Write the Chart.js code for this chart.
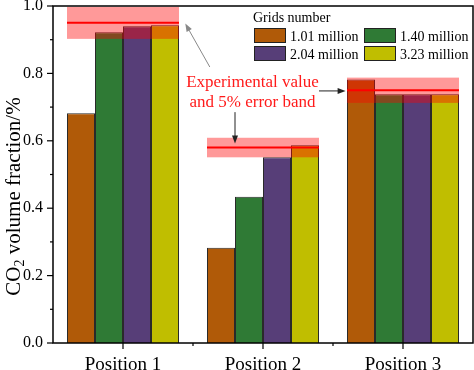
<!DOCTYPE html>
<html>
<head>
<meta charset="utf-8">
<script src="https://cdn.jsdelivr.net/npm/chart.js@4.4.0/dist/chart.umd.min.js"></script>
<style>
  body { margin: 0; background: #fff; }
  canvas { display: block; }
</style>
</head>
<body>
<canvas id="chart" width="474" height="370"></canvas>
<script>
var categories = ['Position 1', 'Position 2', 'Position 3'];
var gridNames = ['1.01 million', '1.40 million', '2.04 million', '3.23 million'];
var grid101 = [0.682, 0.283, 0.782];
var grid140 = [0.922, 0.434, 0.738];
var grid204 = [0.940, 0.551, 0.738];
var grid323 = [0.943, 0.587, 0.738];
var expValue = [0.95, 0.58, 0.75];
var bandLow = [0.9025, 0.551, 0.7125];
var bandHigh = [0.9975, 0.609, 0.7875];
var yTicks = [0.0, 0.2, 0.4, 0.6, 0.8, 1.0];

var barColors = ['#b05a08', '#2f7a35', '#573e78', '#c0be00'];
var serif = '"Liberation Serif", "Times New Roman", serif';

// arrows in data units: [fromIndex, fromValue, toIndex, toValue, colour]
var arrows = [
  [0.62, 0.819, 0.445, 0.948, '#888'],
  [0.80, 0.685, 0.80, 0.592, '#222'],
  [1.40, 0.748, 1.59, 0.748, '#222']
];

function drawArrow(ctx, x1, y1, x2, y2, color) {
  var ang = Math.atan2(y2 - y1, x2 - x1);
  ctx.save();
  ctx.strokeStyle = color;
  ctx.fillStyle = color;
  ctx.lineWidth = 1;
  ctx.beginPath();
  ctx.moveTo(x1, y1);
  ctx.lineTo(x2 - 6 * Math.cos(ang), y2 - 6 * Math.sin(ang));
  ctx.stroke();
  ctx.beginPath();
  ctx.moveTo(x2, y2);
  ctx.lineTo(x2 - 8 * Math.cos(ang) + 3 * Math.sin(ang), y2 - 8 * Math.sin(ang) - 3 * Math.cos(ang));
  ctx.lineTo(x2 - 8 * Math.cos(ang) - 3 * Math.sin(ang), y2 - 8 * Math.sin(ang) + 3 * Math.cos(ang));
  ctx.closePath();
  ctx.fill();
  ctx.restore();
}

var decorations = {
  id: 'decorations',
  afterDatasetsDraw: function(chart) {
    var ctx = chart.ctx;
    var x = chart.scales.x;
    var y = chart.scales.y;
    var area = chart.chartArea;
    var catW = x.getPixelForValue(1) - x.getPixelForValue(0);

    // experimental bands and lines
    for (var i = 0; i < categories.length; i++) {
      var cx = x.getPixelForValue(i);
      var left = cx - catW * 0.4;
      var right = cx + catW * 0.4;
      ctx.fillStyle = 'rgba(255,0,0,0.4)';
      ctx.fillRect(left, y.getPixelForValue(bandHigh[i]), right - left,
        y.getPixelForValue(bandLow[i]) - y.getPixelForValue(bandHigh[i]));
      ctx.strokeStyle = '#ff0000';
      ctx.lineWidth = 2;
      ctx.beginPath();
      ctx.moveTo(left, y.getPixelForValue(expValue[i]));
      ctx.lineTo(right, y.getPixelForValue(expValue[i]));
      ctx.stroke();
    }

    // frame
    ctx.save();
    ctx.strokeStyle = '#000';
    ctx.lineWidth = 1.5;
    ctx.strokeRect(area.left, area.top, area.right - area.left, area.bottom - area.top);

    // y ticks, major and minor
    ctx.lineWidth = 1.2;
    for (var v = 0; v <= 10; v++) {
      var py = y.getPixelForValue(v / 10);
      var len = v % 2 === 0 ? 6 : 3;
      ctx.beginPath();
      ctx.moveTo(area.left - len, py);
      ctx.lineTo(area.left, py);
      ctx.stroke();
    }
    // x ticks
    for (var k = 0; k < categories.length; k++) {
      var px = x.getPixelForValue(k);
      ctx.beginPath();
      ctx.moveTo(px, area.bottom);
      ctx.lineTo(px, area.bottom + 6);
      ctx.stroke();
      if (k > 0) {
        var bx = px - catW / 2;
        ctx.beginPath();
        ctx.moveTo(bx, area.bottom);
        ctx.lineTo(bx, area.bottom + 3);
        ctx.stroke();
      }
    }

    // y axis title with subscript
    ctx.translate(14, (area.top + area.bottom) / 2 + 22);
    ctx.rotate(-Math.PI / 2);
    ctx.fillStyle = '#000';
    ctx.textBaseline = 'middle';
    var t1 = 'CO', t3 = ' volume fraction/%';
    ctx.font = '21px ' + serif;
    var w1 = ctx.measureText(t1).width;
    var w3 = ctx.measureText(t3).width;
    ctx.font = '14px ' + serif;
    var w2 = ctx.measureText('2').width;
    var start = -(w1 + w2 + w3) / 2;
    ctx.font = '21px ' + serif;
    ctx.textAlign = 'left';
    ctx.fillText(t1, start, 0);
    ctx.font = '14px ' + serif;
    ctx.fillText('2', start + w1, 6);
    ctx.font = '21px ' + serif;
    ctx.fillText(t3, start + w1 + w2, 0);
    ctx.restore();

    // legend
    ctx.save();
    ctx.font = '14px ' + serif;
    ctx.fillStyle = '#000';
    ctx.textBaseline = 'alphabetic';
    ctx.textAlign = 'left';
    ctx.fillText('Grids number', 253, 22);
    var cols = [254, 364];
    var rows = [28, 46];
    for (var g = 0; g < gridNames.length; g++) {
      var lx = cols[g % 2];
      var ly = rows[Math.floor(g / 2)];
      ctx.fillStyle = barColors[g];
      ctx.fillRect(lx, ly, 32, 15);
      ctx.strokeStyle = '#222';
      ctx.lineWidth = 1;
      ctx.strokeRect(lx + 0.5, ly + 0.5, 31, 14);
      ctx.fillStyle = '#000';
      ctx.fillText(gridNames[g], lx + 36, ly + 13);
    }
    ctx.restore();

    // annotation text and arrows
    ctx.save();
    ctx.fillStyle = '#ff1a1a';
    ctx.font = '17px ' + serif;
    ctx.textAlign = 'center';
    ctx.textBaseline = 'middle';
    var tx = x.getPixelForValue(0.925);
    ctx.fillText('Experimental value', tx, y.getPixelForValue(0.774));
    ctx.fillText('and 5% error band', tx, y.getPixelForValue(0.715));
    ctx.restore();
    arrows.forEach(function(a) {
      drawArrow(ctx, x.getPixelForValue(a[0]), y.getPixelForValue(a[1]),
        x.getPixelForValue(a[2]), y.getPixelForValue(a[3]), a[4]);
    });
  }
};

var seriesValues = [grid101, grid140, grid204, grid323];
var datasets = [];
for (var s = 0; s < seriesValues.length; s++) {
  datasets.push({
    label: gridNames[s],
    data: seriesValues[s],
    backgroundColor: barColors[s],
    borderColor: '#2a2a2a',
    borderWidth: 1,
    barPercentage: 1,
    categoryPercentage: 0.8
  });
}

var chart = new Chart(document.getElementById('chart'), {
  type: 'bar',
  data: { labels: categories, datasets: datasets },
  options: {
    responsive: false,
    animation: false,
    layout: { padding: { top: 6, right: 1, left: 0, bottom: 0 } },
    plugins: { legend: { display: false }, tooltip: { enabled: false } },
    scales: {
      x: {
        offset: true,
        grid: { display: false },
        border: { display: false },
        ticks: { color: '#000', font: { family: serif, size: 19 }, padding: 3 },
        afterFit: function(scale) {
          scale.height = 27;
          scale.paddingLeft = 0;
          scale.paddingRight = 0;
        }
      },
      y: {
        min: 0,
        max: 1,
        afterBuildTicks: function(scale) {
          scale.ticks = yTicks.map(function(v) { return { value: v }; });
        },
        grid: { display: false },
        border: { display: false },
        ticks: {
          color: '#000',
          font: { family: serif, size: 16 },
          padding: 2,
          callback: function(v) { return Number(v).toFixed(1); }
        },
        afterFit: function(scale) {
          scale.width = 53;
          scale.paddingTop = 0;
          scale.paddingBottom = 0;
        }
      }
    }
  },
  plugins: [decorations]
});
</script>
</body>
</html>
